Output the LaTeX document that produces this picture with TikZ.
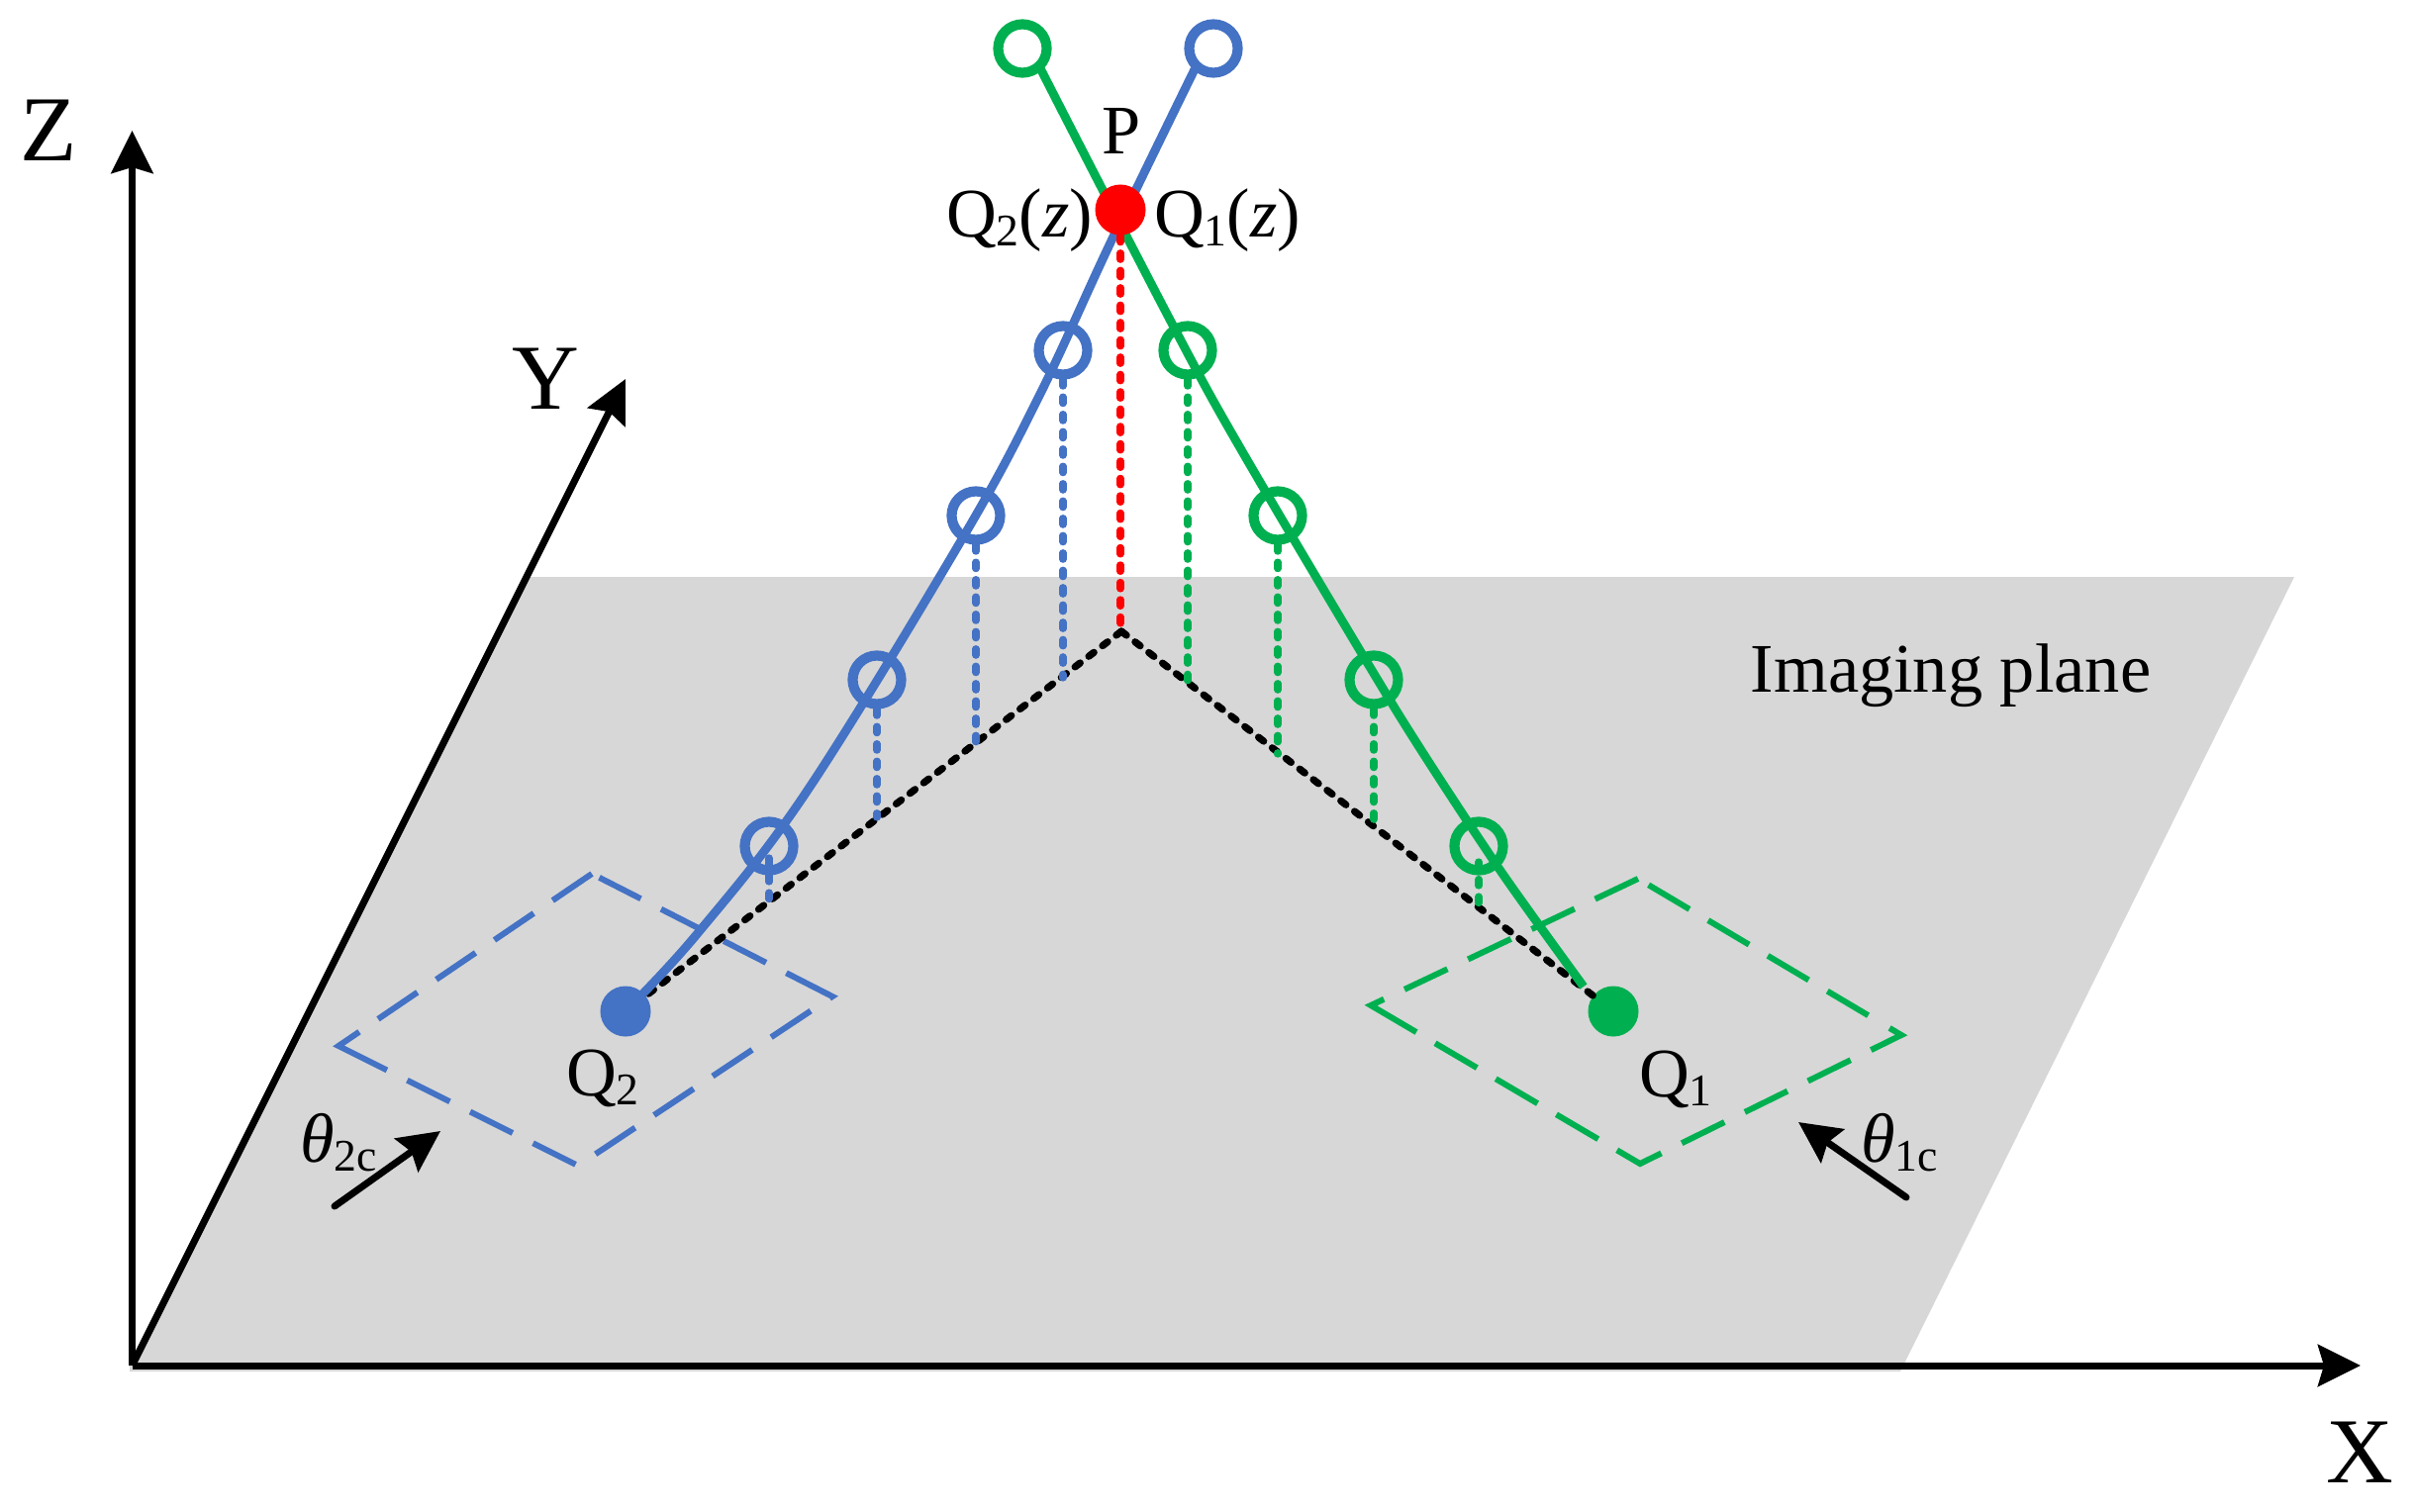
\documentclass[tikz,border=0pt]{standalone}
\usepackage{fontspec}
\setmainfont{Liberation Serif}
\usetikzlibrary{arrows.meta}
\definecolor{bl}{HTML}{4472C4}
\definecolor{gr}{HTML}{00B050}
\definecolor{plane}{HTML}{D7D7D7}
\newcommand\sbs[1]{\raisebox{-2.8pt}{\fontsize{13}{14}\selectfont #1}}
\tikzset{
  axisline/.style={line width=0.07cm,black,-{Stealth[length=0.43cm,width=0.42cm,inset=0.06cm]}},
  smallarrow/.style={line width=0.07cm,black,line cap=round,-{Stealth[length=0.42cm,width=0.41cm,inset=0.06cm]}},
  lab/.style={inner sep=0pt,anchor=base,font=\fontsize{20}{24}\selectfont},
  biglab/.style={inner sep=0pt,anchor=base,font=\fontsize{26.7}{30}\selectfont},
  dotted line/.style={line width=0.072cm,line cap=round,dash pattern=on 0.065cm off 0.11cm},
  solidcurve/.style={line width=0.088cm},
  hollow/.style={circle,draw,line width=0.102cm,minimum size=0.49cm,inner sep=0pt},
  soliddot/.style={circle,fill,minimum size=0.51cm,inner sep=0pt},
  dia/.style={line width=0.06cm,line join=miter,miter limit=10},
  bdash/.style={dia,bl,dash pattern=on 0.48cm off 0.23cm on 0.48cm off 0.23cm on 0.48cm off 0.23cm on 0.48cm off 0.23cm on 0.80cm off 0.23cm on 0.48cm off 0.23cm on 0.48cm off 0.23cm on 0.48cm off 0.24cm on 0.48cm off 0.23cm on 0.48cm off 0.23cm on 0.48cm off 0.23cm on 0.48cm off 0.23cm on 0.555cm off 0.23cm on 0.48cm off 0.23cm on 0.48cm off 0.23cm on 0.47cm off 0.30cm},
  gdash/.style={dia,gr,dash pattern=on 0.48cm off 0.23cm on 0.48cm off 0.23cm on 0.48cm off 0.23cm on 0.48cm off 0.23cm on 0.68cm off 0.22cm on 0.49cm off 0.22cm on 0.49cm off 0.22cm on 0.49cm off 0.22cm on 0.51cm off 0.23cm on 0.48cm off 0.23cm on 0.48cm off 0.23cm on 0.48cm off 0.23cm on 0.48cm off 0.25cm on 0.48cm off 0.22cm on 0.48cm off 0.22cm on 0.48cm off 0.22cm on 0.48cm off 0.30cm},
}
\begin{document}
\begin{tikzpicture}[x=0.01cm,y=-0.01cm]
\useasboundingbox (0,0) rectangle (2440,1527);
% named points
\coordinate (O) at (133.5,1380);
\coordinate (Xend) at (2385,1380);
\coordinate (Yend) at (632,383);
\coordinate (Zend) at (133.5,132);
\coordinate (apex) at (1133,638);
% imaging plane
\fill[plane] (131,1386) -- (131,1380) -- (532,583) -- (2318,583) -- (1920,1386) -- cycle;
% diamonds
\coordinate (bT) at (598,883); \coordinate (bL) at (342,1057); \coordinate (bB) at (584,1178); \coordinate (bR) at (841,1007);
\coordinate (gT) at (1655,888); \coordinate (gL) at (1385,1016); \coordinate (gB) at (1657,1176); \coordinate (gR) at (1921,1046);
\draw[bdash] (bT) -- (bL) -- (bB) -- (bR) -- cycle;
\draw[gdash] (gT) -- (gL) -- (gB) -- (gR) -- cycle;
% end dots as nodes
\node[soliddot,bl] (Q2) at (632,1022) {};
\node[soliddot,gr] (Q1) at (1630,1022) {};
\node[hollow,bl] (b1) at (1074,354) {};
\node[hollow,bl] (b2) at (986,521) {};
\node[hollow,bl] (b3) at (886,687) {};
\node[hollow,bl] (b4) at (777,855) {};
\node[hollow,bl] (bt) at (1226,49) {};
\node[hollow,gr] (g1) at (1200,354) {};
\node[hollow,gr] (g2) at (1291,521) {};
\node[hollow,gr] (g3) at (1388,687) {};
\node[hollow,gr] (g4) at (1494,855) {};
\node[hollow,gr] (gt) at (1033,49) {};
% dotted ground lines
\draw[dotted line,black] (apex) -- (Q2);
\draw[dotted line,black] (apex) -- (Q1);
% drop lines
\coordinate (b1f) at (1074,685); \coordinate (b2f) at (986,753); \coordinate (b3f) at (886,826); \coordinate (b4f) at (777,909);
\coordinate (g1f) at (1200,691); \coordinate (g2f) at (1291,762); \coordinate (g3f) at (1388,835); \coordinate (g4f) at (1494,917);
\coordinate (b4s) at (777,867); \coordinate (g4s) at (1494,871);
\draw[dotted line,bl] (b1.south) -- (b1f);
\draw[dotted line,bl] (b2.south) -- (b2f);
\draw[dotted line,bl] (b3.south) -- (b3f);
\draw[dotted line,bl] (b4s) -- (b4f);
\draw[dotted line,gr] (g1.south) -- (g1f);
\draw[dotted line,gr] (g2.south) -- (g2f);
\draw[dotted line,gr] (g3.south) -- (g3f);
\draw[dotted line,gr] (g4s) -- (g4f);
% curves
\draw[solidcurve,bl] plot[smooth,tension=0.6] coordinates {(Q2.center) (705,943) (815,800) (973,543) (1050,400) (1123,243) (1207,70)};
\draw[solidcurve,gr] plot[smooth,tension=0.4] coordinates {(1050,67) (1223,400) (1407,712) (1514,877) (1600,997)};
% red
\node[soliddot,red] (P) at (1132,212) {};
\coordinate (Pf) at (1132,640);
\draw[dotted line,red] (P) -- (Pf);
% axes
\draw[axisline] (O) -- (Xend);
\draw[axisline] (O) -- (Yend);
\draw[axisline] (O) -- (Zend);
% view arrows
\coordinate (a2s) at (338,1219); \coordinate (a2e) at (445,1143);
\coordinate (a1s) at (1926,1210); \coordinate (a1e) at (1817,1134);
\draw[smallarrow] (a2s) -- (a2e);
\draw[smallarrow] (a1s) -- (a1e);
% labels
\node[biglab] (lz) at (49,162) {Z};
\node[biglab] (ly) at (551,413) {Y};
\node[biglab] (lx) at (2384,1498) {X};
\node[lab] (lp) at (1133,155) {P};
\node[lab] (lq2z) at (1030,239) {Q\sbs{2}(\textit{z})};
\node[lab] (lq1z) at (1240,239) {Q\sbs{1}(\textit{z})};
\node[lab] (lq2) at (609,1107) {Q\sbs{2}};
\node[lab] (lq1) at (1693,1108) {Q\sbs{1}};
\node[lab] (lt2) at (342,1174) {\textit{θ}\sbs{2c}};
\node[lab] (lt1) at (1919,1174) {\textit{θ}\sbs{1c}};
\node[lab] (limg) at (1971,699) {Imaging plane};
\end{tikzpicture}
\end{document}
